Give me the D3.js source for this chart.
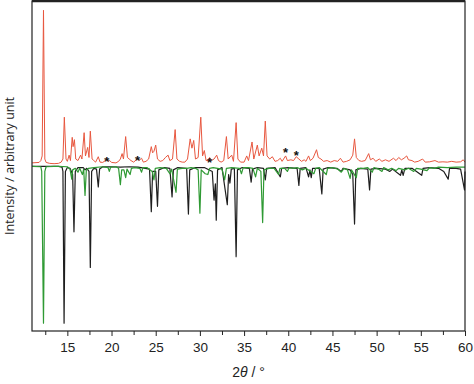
<!DOCTYPE html>
<html>
<head>
<meta charset="utf-8">
<script src="https://cdn.jsdelivr.net/npm/d3@7"></script>
<style>
  body { margin: 0; background: #fff; }
  svg { display: block; }
</style>
</head>
<body>
<div id="plot"></div>
<script>
var redTrace = [[11.0,15],[11.8,18],[12.0,30],[12.15,60],[12.3,1000],[12.45,40],[12.6,18],[13.0,12],[13.5,10],[14.0,12],[14.3,20],[14.5,40],[14.66,310],[14.85,40],[15.0,25],[15.2,65],[15.35,30],[15.55,180],[15.65,120],[15.8,165],[15.95,40],[16.2,30],[16.5,65],[16.65,40],[16.9,210],[17.05,60],[17.3,115],[17.45,50],[17.6,220],[17.8,40],[18.0,30],[18.2,20],[18.5,55],[18.7,20],[19.0,18],[19.3,30],[19.45,45],[19.6,25],[19.8,30],[20.0,18],[20.5,15],[20.8,25],[21.0,40],[21.2,75],[21.35,40],[21.6,185],[21.8,50],[22.0,40],[22.2,30],[22.5,20],[22.8,35],[22.95,45],[23.1,30],[23.4,45],[23.6,20],[23.9,25],[24.2,40],[24.5,120],[24.65,80],[24.8,90],[25.0,130],[25.2,40],[25.5,25],[25.8,30],[26.1,50],[26.4,65],[26.6,30],[26.9,40],[27.2,230],[27.4,40],[27.7,25],[28.0,20],[28.3,20],[28.6,40],[28.9,170],[29.1,110],[29.3,160],[29.5,40],[29.8,50],[30.1,310],[30.3,60],[30.5,95],[30.7,30],[30.9,30],[31.1,50],[31.3,30],[31.6,40],[31.9,65],[32.1,30],[32.4,20],[32.7,30],[33.0,185],[33.2,40],[33.6,65],[33.8,25],[34.1,275],[34.3,40],[34.6,20],[35.0,20],[35.3,60],[35.5,30],[35.9,150],[36.1,40],[36.5,130],[36.7,60],[37.0,110],[37.2,60],[37.4,285],[37.6,60],[37.9,40],[38.2,55],[38.5,25],[38.8,30],[39.1,45],[39.3,25],[39.7,60],[39.9,30],[40.3,35],[40.6,30],[40.9,55],[41.2,40],[41.5,25],[41.8,35],[42.0,25],[42.3,60],[42.5,30],[42.8,45],[43.2,100],[43.4,50],[43.7,40],[44.0,25],[44.4,30],[44.8,20],[45.2,30],[45.6,25],[45.9,45],[46.2,20],[46.6,25],[47.0,35],[47.3,65],[47.5,170],[47.7,50],[48.0,30],[48.3,25],[48.7,30],[49.1,75],[49.3,35],[49.6,45],[49.9,25],[50.3,40],[50.6,25],[51.0,35],[51.4,25],[51.9,45],[52.2,30],[52.5,50],[52.8,35],[53.1,45],[53.4,60],[53.6,35],[54.0,30],[54.3,20],[54.7,25],[55.2,40],[55.5,20],[56.0,22],[56.6,30],[57.0,20],[57.5,22],[58.0,20],[58.5,25],[59.0,20],[59.5,22],[59.8,35],[60.0,20]];

var blackTrace = [[11.0,-8],[12.0,-8],[13.0,-8],[14.0,-8],[14.4,-12],[14.5,-40],[14.63,-1020],[14.78,-40],[15.0,-15],[15.3,-20],[15.6,-60],[15.75,-430],[15.9,-40],[16.2,-15],[16.8,-15],[17.0,-30],[17.2,-20],[17.45,-40],[17.6,-660],[17.75,-40],[18.0,-20],[18.3,-25],[18.5,-140],[18.65,-25],[19.0,-10],[20.0,-10],[21.0,-12],[22.0,-10],[23.0,-12],[24.3,-25],[24.5,-300],[24.65,-40],[25.0,-40],[25.2,-265],[25.35,-30],[26.0,-15],[26.6,-20],[26.85,-205],[27.0,-30],[27.5,-15],[28.5,-20],[28.7,-315],[28.85,-30],[29.5,-15],[30.5,-15],[31.4,-40],[31.6,-225],[31.75,-120],[31.85,-355],[32.0,-30],[32.5,-15],[33.1,-255],[33.25,-60],[33.4,-115],[33.55,-25],[33.9,-20],[34.1,-590],[34.25,-30],[34.8,-15],[35.6,-20],[35.8,-110],[35.95,-25],[36.5,-15],[37.2,-20],[37.4,-95],[37.55,-20],[38.5,-15],[39.1,-75],[39.25,-20],[40.0,-15],[41.0,-20],[41.2,-130],[41.35,-20],[42.0,-15],[42.3,-75],[42.45,-30],[42.6,-80],[42.75,-20],[43.5,-20],[43.8,-185],[43.95,-25],[44.5,-15],[45.5,-20],[46.0,-40],[46.2,-20],[47.0,-30],[47.3,-60],[47.5,-380],[47.65,-30],[48.2,-20],[49.0,-25],[49.2,-160],[49.35,-25],[50.0,-20],[51.0,-25],[51.5,-40],[51.8,-25],[52.7,-65],[52.85,-30],[53.0,-65],[53.2,-20],[54.0,-20],[55.1,-65],[55.25,-20],[56.0,-15],[57.0,-20],[57.6,-40],[58.1,-90],[58.25,-20],[59.0,-20],[59.5,-25],[59.95,-160],[60.0,-40]];

var greenTrace = [[11.0,-8],[12.0,-10],[12.1,-40],[12.3,-1020],[12.45,-40],[12.6,-10],[13.5,-8],[14.0,-8],[15.0,-10],[15.3,-25],[15.5,-90],[15.6,-30],[15.9,-20],[16.2,-45],[16.4,-20],[16.7,-60],[16.85,-25],[17.0,-195],[17.15,-30],[17.4,-20],[18.0,-15],[19.0,-10],[19.6,-15],[19.75,-40],[19.9,-12],[20.5,-10],[20.8,-20],[21.0,-125],[21.15,-30],[21.4,-30],[21.6,-80],[21.75,-25],[22.1,-60],[22.25,-20],[22.6,-15],[23.2,-20],[23.4,-45],[23.55,-15],[24.0,-15],[24.6,-40],[24.8,-95],[24.95,-20],[25.5,-15],[26.2,-20],[26.6,-55],[26.8,-25],[27.3,-175],[27.45,-25],[28.0,-20],[28.5,-20],[29.0,-15],[29.5,-20],[29.8,-30],[30.0,-310],[30.15,-30],[30.6,-55],[30.9,-60],[31.1,-20],[31.5,-15],[32.5,-25],[32.8,-95],[33.0,-20],[33.6,-15],[34.5,-20],[34.7,-55],[34.9,-15],[35.5,-15],[36.0,-20],[36.3,-75],[36.5,-20],[36.9,-40],[37.1,-370],[37.25,-30],[37.8,-20],[38.4,-20],[38.9,-60],[39.05,-20],[39.6,-20],[39.9,-40],[40.1,-15],[40.6,-20],[41.0,-15],[41.6,-30],[42.0,-20],[42.9,-55],[43.1,-20],[43.5,-15],[44.3,-60],[44.45,-20],[45.0,-15],[45.6,-25],[46.0,-45],[46.3,-20],[46.7,-30],[47.0,-85],[47.15,-30],[47.7,-80],[47.85,-20],[48.5,-20],[49.0,-15],[49.5,-45],[49.7,-15],[50.2,-25],[50.6,-40],[50.8,-15],[51.3,-30],[51.7,-20],[52.2,-35],[52.5,-20],[53.2,-30],[53.6,-20],[54.2,-40],[54.5,-20],[55.0,-25],[55.7,-35],[56.0,-15],[56.5,-20],[57.0,-12],[58.0,-15],[59.0,-12],[60.0,-12]];

// impurity markers
var starPos = [19.45, 22.95, 31.1, 39.7, 40.9];
var starInt = [45, 52, 39, 103, 84];

var majorTicks = [15, 20, 25, 30, 35, 40, 45, 50, 55, 60];
var minorTicks = [12.5, 17.5, 22.5, 27.5, 32.5, 37.5, 42.5, 47.5, 52.5, 57.5];

var svgwidth = 474;
var svgheight = 384;
var padL = 32, padR = 465, padT = 1, padB = 331;

var svg = d3.select('#plot').append('svg')
    .attr('width', svgwidth)
    .attr('height', svgheight);

var xScale = d3.scaleLinear().domain([11, 60]).range([padL, padR]);
var yScale = d3.scaleLinear().domain([-1070, 1060]).range([padB, padT]);

var line = d3.line()
    .x(function(d){ return xScale(d[0]); })
    .y(function(d){ return yScale(d[1]); });

var traces = [
    {data: blackTrace, color: '#1e1e1e', w: 1.2},
    {data: greenTrace, color: '#2f9a34', w: 1.2},
    {data: redTrace, color: '#e8573f', w: 1}
];

svg.append('g').selectAll('path').data(traces).enter().append('path')
    .attr('d', function(d){ return line(d.data); })
    .attr('fill', 'none')
    .attr('stroke', function(d){ return d.color; })
    .attr('stroke-width', function(d){ return d.w; })
    .attr('stroke-linejoin', 'round');

svg.append('g').selectAll('text').data(starPos).enter().append('text')
    .attr('x', function(d){ return xScale(d); })
    .attr('y', function(d, i){ return yScale(starInt[i]) + 8; })
    .attr('text-anchor', 'middle')
    .style('font-family', 'Liberation Sans, Arial, sans-serif')
    .style('font-size', '13px')
    .style('font-weight', 'bold')
    .style('fill', '#111')
    .text('*');

// frame
svg.append('rect')
    .attr('x', padL).attr('y', padT)
    .attr('width', padR - padL).attr('height', padB - padT)
    .attr('fill', 'none')
    .attr('stroke', '#222')
    .attr('stroke-width', 1.2);
svg.append('line')
    .attr('x1', padL).attr('x2', padR)
    .attr('y1', padT).attr('y2', padT)
    .attr('stroke', '#222')
    .attr('stroke-width', 2.5);

const xAxis = d3.axisBottom(xScale).tickValues(majorTicks).tickSize(5).tickPadding(6);
const xMinor = d3.axisBottom(xScale).tickValues(minorTicks).tickSize(4).tickFormat('');

var gx = svg.append('g').attr('transform', 'translate(0,' + padB + ')').call(xAxis);
svg.append('g').attr('transform', 'translate(0,' + padB + ')').call(xMinor)
    .select('.domain').remove();
gx.select('.domain').remove();
svg.selectAll('.tick line').attr('stroke', '#222');
gx.selectAll('text')
    .style('font-family', 'Liberation Sans, Arial, sans-serif')
    .style('font-size', '13.5px')
    .style('fill', '#222');

svg.append('text')
    .attr('x', (padL + padR) / 2)
    .attr('y', 377)
    .attr('text-anchor', 'middle')
    .style('font-family', 'Liberation Sans, Arial, sans-serif')
    .style('font-size', '14px')
    .style('fill', '#222')
    .html('2<tspan font-style="italic">θ</tspan> / °');

svg.append('text')
    .attr('transform', 'translate(14,' + (padT + padB) / 2 + ') rotate(-90)')
    .attr('text-anchor', 'middle')
    .style('font-family', 'Open Sans, sans-serif')
    .style('font-size', '12.5px')
    .style('fill', '#222')
    .text('Intensity / arbitrary unit');
</script>
</body>
</html>
